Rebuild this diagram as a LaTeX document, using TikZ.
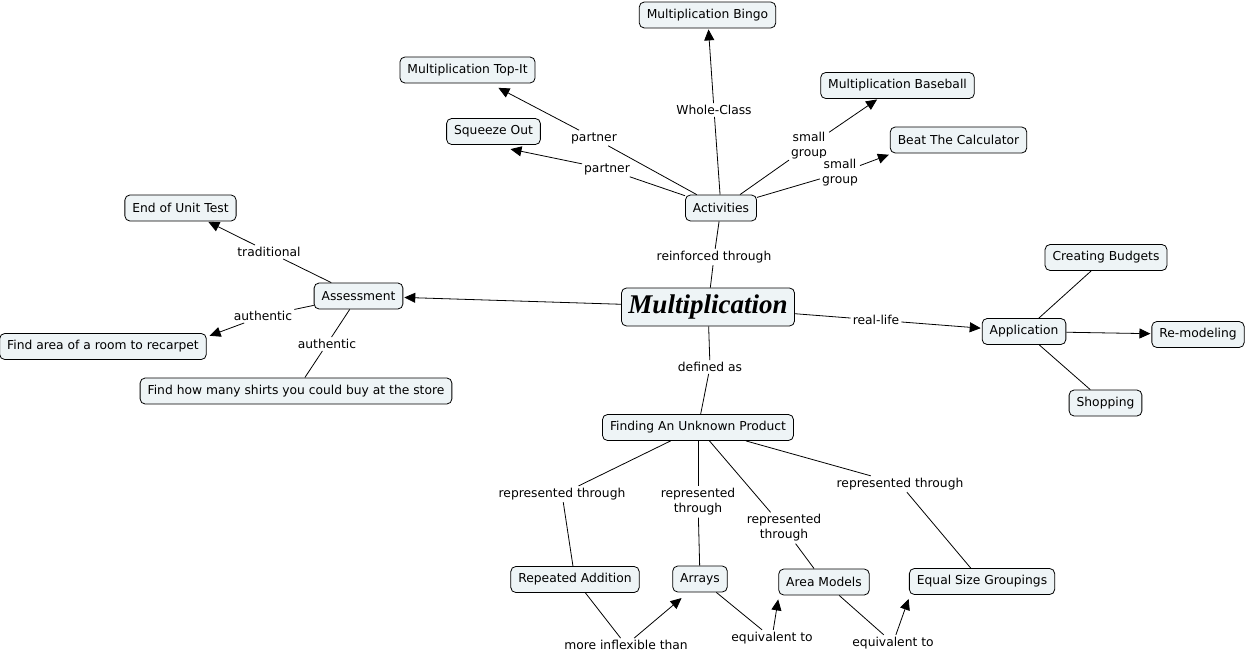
\documentclass[tikz,border=0pt]{standalone}
\usepackage{fontspec}
\setmainfont{DejaVu Sans}
\newfontfamily\titlefont{Liberation Serif}
\usetikzlibrary{arrows.meta}
\definecolor{boxfill}{HTML}{EEF4F6}
\tikzset{
  concept/.style={draw=black, line width=0.8pt, fill=boxfill, rounded corners=5pt,
    minimum height=26pt, inner xsep=7.5pt, inner ysep=2pt,
    font=\fontsize{12.3}{14}\selectfont},
  lbl/.style={fill=white, inner sep=2pt, align=center,
    font=\fontsize{12.3}{15}\selectfont},
  link/.style={draw=black, line width=0.8pt},
  arr/.style={link, -{Triangle[length=11pt,width=10pt]}, shorten >=1pt},
}
\begin{document}
\begin{tikzpicture}[x=1pt,y=-1pt]
\useasboundingbox (0,0) rectangle (1247,653);
% concepts
\node[concept] (bingo) at (707.5,15) {Multiplication Bingo};
\node[concept] (topit) at (467.5,70) {Multiplication Top-It};
\node[concept] (squeeze) at (493.5,131.5) {Squeeze Out};
\node[concept] (baseball) at (897.5,85.5) {Multiplication Baseball};
\node[concept] (beat) at (958.5,140) {Beat The Calculator};
\node[concept] (act) at (721,208) {Activities};
\node[concept] (endtest) at (180.5,208) {End of Unit Test};
\node[concept] (assess) at (358.5,296) {Assessment};
\node[concept] (room) at (103,346.5) {Find area of a room to recarpet};
\node[concept] (shirts) at (296,391) {Find how many shirts you could buy at the store};
\node[concept, minimum height=38pt, inner xsep=7pt, font=\titlefont\bfseries\itshape\fontsize{27}{29}\selectfont] (mult) at (708,307) {Multiplication};
\node[concept] (app) at (1024,331.5) {Application};
\node[concept] (budgets) at (1106,257.5) {Creating Budgets};
\node[concept] (remod) at (1198,334.5) {Re-modeling};
\node[concept] (shop) at (1105.5,403) {Shopping};
\node[concept] (fup) at (698,427.5) {Finding An Unknown Product};
\node[concept] (rep) at (575,579.5) {Repeated Addition};
\node[concept] (arrays) at (700,579) {Arrays};
\node[concept] (areamod) at (824,582) {Area Models};
\node[concept] (equal) at (982,581.5) {Equal Size Groupings};
% link labels
\node[lbl] (lwc) at (714,110) {Whole-Class};
\node[lbl] (lp1) at (594,138) {partner};
\node[lbl] (lp2) at (607,169) {partner};
\node[lbl] (lsg1) at (809,146) {small\\group};
\node[lbl] (lsg2) at (840,173) {small\\group};
\node[lbl] (lrt) at (714,257) {reinforced through};
\node[lbl] (ltr) at (269,252) {traditional};
\node[lbl] (la1) at (263,316) {authentic};
\node[lbl] (la2) at (327,344) {authentic};
\node[lbl] (lrl) at (876,320) {real-life};
\node[lbl] (lda) at (710,367) {defined as};
\node[lbl] (lr1) at (562,494) {represented through};
\node[lbl] (lr2) at (698,502) {represented\\through};
\node[lbl] (lr3) at (784,528) {represented\\through};
\node[lbl] (lr4) at (900,484) {represented through};
\node[lbl] (lmi) at (626,645) {more inflexible than};
\node[lbl] (le1) at (772,638) {equivalent to};
\node[lbl] (le2) at (893,643) {equivalent to};
% connector end points
\coordinate (topitEnd) at ([xshift=30pt,yshift=-4pt]topit.south);
\coordinate (squeezeEnd) at ([xshift=16pt,yshift=-4pt]squeeze.south);
\coordinate (roomEnd) at ([xshift=2pt,yshift=-3pt]room.north east);
\coordinate (arraysEnd) at ([xshift=10pt,yshift=-5pt]arrays.south west);
\coordinate (areaEnd) at ([yshift=-3pt]areamod.south west);
\coordinate (equalEnd) at ([yshift=-3pt]equal.south west);
\coordinate (beatEnd) at ([yshift=-1pt]beat.south west);
% connectors
\draw[link] (act) -- (lwc); \draw[arr] (lwc) -- (bingo);
\draw[link] (act) -- (lp1); \draw[arr] (lp1) -- (topitEnd);
\draw[link] (act) -- (lp2); \draw[arr] (lp2) -- (squeezeEnd);
\draw[link] (act) -- (lsg1); \draw[arr] (lsg1) -- (baseball);
\draw[link] (act) -- (lsg2); \draw[arr] (lsg2) -- (beatEnd);
\draw[link] (mult) -- (lrt); \draw[link] (lrt) -- (act);
\draw[arr] (mult) -- (assess);
\draw[link] (assess) -- (ltr); \draw[arr] (ltr) -- (endtest);
\draw[link] (assess) -- (la1); \draw[arr] (la1) -- (roomEnd);
\draw[link] (assess) -- (la2); \draw[link] (la2) -- (shirts);
\draw[link] (mult) -- (lrl); \draw[arr] (lrl) -- (app);
\draw[link] (app) -- (budgets);
\draw[arr] (app) -- (remod);
\draw[link] (app) -- (shop);
\draw[link] (mult) -- (lda); \draw[link] (lda) -- (fup);
\draw[link] (fup) -- (lr1); \draw[link] (lr1) -- (rep);
\draw[link] (fup) -- (lr2); \draw[link] (lr2) -- (arrays);
\draw[link] (fup) -- (lr3); \draw[link] (lr3) -- (areamod);
\draw[link] (fup) -- (lr4); \draw[link] (lr4) -- (equal);
\draw[link] (rep) -- (lmi); \draw[arr] (lmi) -- (arraysEnd);
\draw[link] (arrays) -- (le1); \draw[arr] (le1) -- (areaEnd);
\draw[link] (areamod) -- (le2); \draw[arr] (le2) -- (equalEnd);
\end{tikzpicture}
\end{document}
